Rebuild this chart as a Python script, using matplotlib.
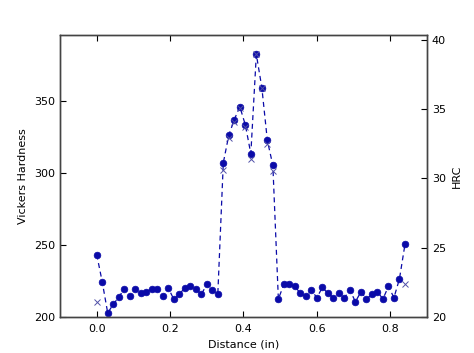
import numpy as np
import matplotlib
matplotlib.use("Agg")
import matplotlib.pyplot as plt

# distance along the sample (in), one reading every 0.015 in
distance = [0.000, 0.015, 0.030, 0.045, 0.060, 0.075, 0.090, 0.105, 0.120, 0.135,
            0.150, 0.165, 0.180, 0.195, 0.210, 0.225, 0.240, 0.255, 0.270, 0.285,
            0.300, 0.315, 0.330, 0.345, 0.360, 0.375, 0.390, 0.405, 0.420, 0.435,
            0.450, 0.465, 0.480, 0.495, 0.510, 0.525, 0.540, 0.555, 0.570, 0.585,
            0.600, 0.615, 0.630, 0.645, 0.660, 0.675, 0.690, 0.705, 0.720, 0.735,
            0.750, 0.765, 0.780, 0.795, 0.810, 0.825, 0.840]

vickers = [243.6, 224.7, 203.0, 209.0, 213.9, 219.8, 214.5, 219.8, 216.6, 217.7,
           219.8, 219.8, 214.5, 220.5, 212.5, 215.9, 220.5, 221.5, 219.8, 215.9,
           222.8, 218.7, 216.1, 307.3, 326.5, 337.3, 346.3, 333.6, 313.6, 382.5,
           359.5, 322.8, 305.5, 212.7, 222.8, 222.8, 221.5, 216.6, 214.5, 218.9,
           213.6, 220.8, 216.6, 213.6, 216.6, 213.6, 218.9, 210.8, 217.7, 212.7,
           215.9, 217.7, 212.7, 221.5, 213.6, 226.7, 250.6]

# converted Rockwell C values (only defined above 20 HRC)
nan = np.nan
hrc = [21.1, nan, nan, nan, nan, nan, nan, nan, nan, nan,
       nan, nan, nan, nan, nan, nan, nan, nan, nan, nan,
       nan, nan, nan, 30.6, 32.9, 34.1, 35.1, 33.7, 31.4, 39.0,
       36.5, 32.5, 30.5, nan, nan, nan, nan, nan, nan, nan,
       nan, nan, nan, nan, nan, nan, nan, nan, nan, nan,
       nan, nan, nan, nan, nan, nan, 22.4]

navy = "#0a0aa8"

fig = plt.figure(figsize=(4.74, 3.53), dpi=100)
ax = fig.add_axes([0.1266, 0.1011, 0.7742, 0.7997])
ax2 = ax.twinx()

ax.plot(distance, vickers, "o--", color=navy, markersize=4.8, markeredgewidth=0.5,
        linewidth=0.9, dashes=(4, 3))
ax2.plot(distance, hrc, "x", color="#5050a8", markersize=4, markeredgewidth=0.7)

ax.set_xlim(-0.1, 0.9)
ax.set_ylim(200, 396)
ax2.set_ylim(19.96, 40.36)

ax.set_xticks([0.0, 0.2, 0.4, 0.6, 0.8])
ax.set_yticks([200, 250, 300, 350])
ax2.set_yticks([20, 25, 30, 35, 40])

ax.tick_params(axis="x", direction="in", top=True, length=4, labelsize=8, pad=5)
ax.tick_params(axis="y", direction="in", left=True, right=False, length=4, labelsize=8)
ax2.tick_params(axis="y", direction="in", length=4, labelsize=8)

for a in (ax, ax2):
    for s in a.spines.values():
        s.set_color("#444444")
        s.set_linewidth(1.0)

ax.set_xlabel("Distance (in)", fontsize=8)
ax.set_ylabel("Vickers Hardness", fontsize=8)
ax2.set_ylabel("HRC", fontsize=8)

fig.savefig("out.png", dpi=100)
